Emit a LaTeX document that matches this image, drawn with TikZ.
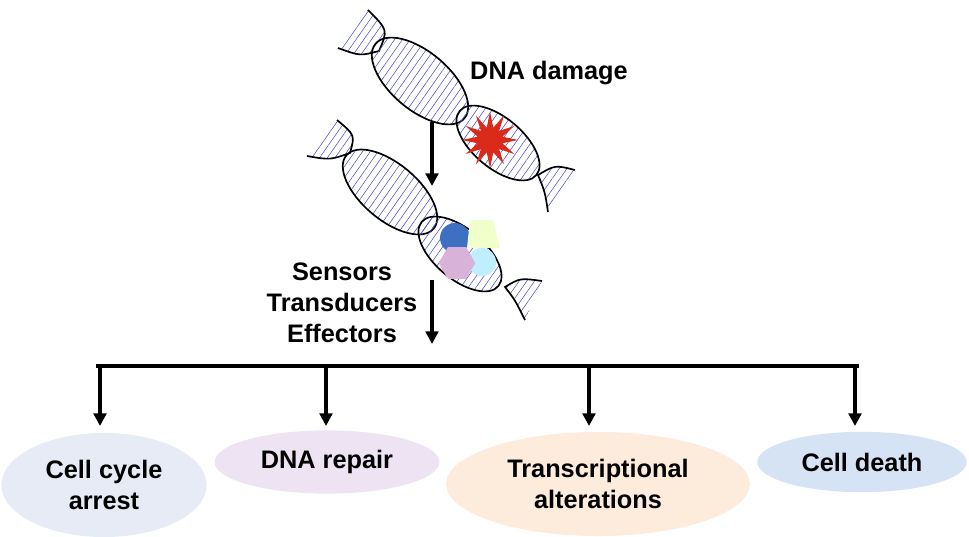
\documentclass[tikz,border=0pt]{standalone}
\usepackage{fontspec}
\setmainfont{Liberation Sans}
\usetikzlibrary{shapes.geometric,patterns.meta,arrows.meta}
\definecolor{arrestfill}{HTML}{E6EBF6}
\definecolor{repairfill}{HTML}{EDE3F3}
\definecolor{transfill}{HTML}{FDEBDB}
\definecolor{deathfill}{HTML}{D6E3F5}
\definecolor{hatch}{HTML}{5050C8}
\definecolor{burst}{HTML}{DC2A1A}
\tikzset{
	every node/.style={
		font=\fontsize{18}{22}\selectfont\bfseries
	},
	outcome/.style={
		shape=ellipse,
		draw=none,
		align=center
	},
	lobe/.style={
		pattern={Lines[angle=55,distance=4.5pt,line width=0.4pt]},
		pattern color=hatch
	},
	strand/.style={line width=1.2pt},
	myarrow/.style={-{Triangle[length=9pt,width=9pt]},line width=2.5pt},
}
\begin{document}
\begin{tikzpicture}[x=0.025cm,y=0.025cm]
	\useasboundingbox (0,0) rectangle (969,-537);
	
	% upper strand
	\fill[lobe] (368,-10) .. controls (388,-30) .. (379,-51) .. controls (360,-56) .. (338,-48) -- cycle;
	\draw[strand] (368,-10) .. controls (388,-30) .. (379,-51) .. controls (360,-56) .. (338,-48);
	\draw[strand,lobe] (420,-81) ellipse [x radius=58,y radius=29,rotate=-40];
	\draw[strand,lobe] (498,-143) ellipse [x radius=50,y radius=25,rotate=-40];
	\fill[lobe] (575,-170) .. controls (555,-165) .. (538,-175) .. controls (545,-192) .. (548,-212) -- cycle;
	\draw[strand] (575,-170) .. controls (555,-165) .. (538,-175) .. controls (545,-192) .. (548,-212);
	\node[star,star points=12,star point ratio=2.2,fill=burst,minimum size=40pt,inner sep=0pt] (damage) at (490,-140) {};
	
	% lower strand
	\fill[lobe] (337,-120) .. controls (355,-135) .. (350,-153) .. controls (330,-160) .. (307,-156) -- cycle;
	\draw[strand] (337,-120) .. controls (355,-135) .. (350,-153) .. controls (330,-160) .. (307,-156);
	\draw[strand,lobe] (390,-192) ellipse [x radius=57,y radius=28,rotate=-40];
	\draw[strand,lobe] (460,-254) ellipse [x radius=50,y radius=25,rotate=-40];
	\fill[lobe] (542,-281) .. controls (520,-278) .. (505,-287) .. controls (515,-300) .. (525,-320) -- cycle;
	\draw[strand] (542,-281) .. controls (520,-278) .. (505,-287) .. controls (515,-300) .. (525,-320);
	
	% proteins
	\fill[blue!40!gray!80!cyan] (455,-238) circle (15);
	\fill[green!30!yellow!20] (470,-220) -- (493,-220) -- (500,-248) -- (467,-248) -- cycle;
	\fill[blue!25!cyan!25!white] (482,-262) circle (14);
	\node[regular polygon,regular polygon sides=6,fill=violet!30,minimum size=26pt,inner sep=0pt] (complex) at (457,-263) {};
	
	% labels
	\node (dnadamage) at (549,-73) {DNA damage};
	\node[align=center] (signal) at (342,-303) {Sensors\\Transducers\\Effectors};
	\coordinate (a1) at (432,-122);
	\coordinate (a2) at (432,-186);
	\coordinate (b1) at (432,-280);
	\coordinate (b2) at (432,-344);
	\draw[myarrow] (a1) -- (a2);
	\draw[myarrow] (b1) -- (b2);
	
	% outcomes
	\node[outcome,fill=arrestfill,minimum width=146pt,minimum height=74pt] (arrest) at (104,-485) {Cell cycle\\arrest};
	\node[outcome,fill=repairfill,minimum width=160pt,minimum height=45pt] (repair) at (327,-462) {DNA repair};
	\node[outcome,fill=transfill,minimum width=216pt,minimum height=74pt] (trans) at (598,-484) {Transcriptional\\alterations};
	\node[outcome,fill=deathfill,minimum width=149pt,minimum height=43pt] (death) at (862,-462) {Cell death};
	
	\coordinate (barL) at (96,-366);
	\coordinate (barR) at (859,-366);
	\draw[line width=3.5pt] (barL) -- (barR);
	\foreach \x/\t in {100/a,326/b,589/c,855/d} {
		\coordinate (drop\t) at (\x,-366);
		\coordinate (end\t) at (\x,-426);
		\draw[myarrow] (drop\t) -- (end\t);
	}
\end{tikzpicture}
\end{document}
